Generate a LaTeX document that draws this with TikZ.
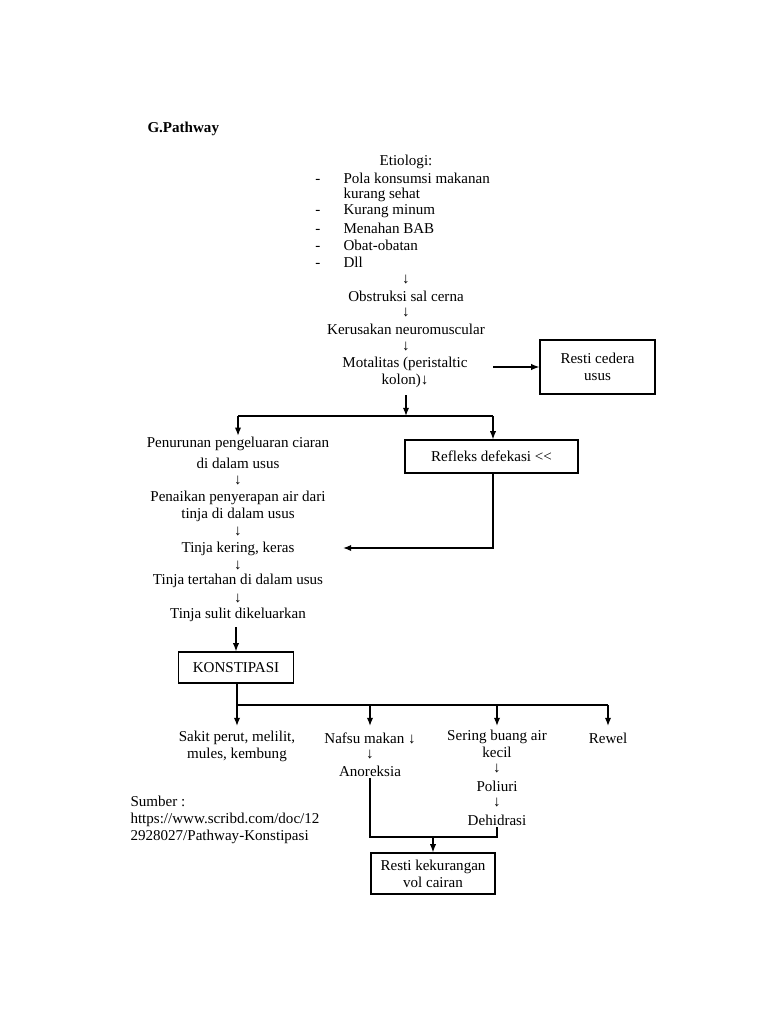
\documentclass[tikz,border=0pt]{standalone}
\usepackage{fontspec}
\setmainfont{Liberation Serif}
\usetikzlibrary{arrows.meta}

\begin{document}
\begin{tikzpicture}[x=0.796875pt,y=-0.796875pt,
    txt/.style={align=center,inner sep=1pt,font=\fontsize{12}{13.6}\selectfont},
    box/.style={draw,line width=1pt,align=center,inner sep=1pt,font=\fontsize{12}{13.6}\selectfont},
    arr/.style={-{Latex[length=6.5pt,width=5pt]},line width=1pt}]
  \useasboundingbox (0,0) rectangle (768,1024);
  % etiologi
  \node [txt,anchor=west,font=\fontsize{12}{13.6}\selectfont\bfseries] (title) at (146,129) {G.Pathway};
  \node [txt] (etio) at (406,162) {Etiologi:};
  \foreach \y/\t [count=\i] in {178/Pola konsumsi makanan,211/Kurang minum,228/Menahan BAB,245/Obat-obatan,262/Dll} {
    \node [txt,anchor=west] (item\i) at (342,\y) {\t};
    \node [txt,anchor=base] (dash\i) at (item\i.base -| 318,0) {-};
  }
  \node [txt,anchor=west] (item1b) at (342,195) {kurang sehat};
  \node [txt] (d1) at (406,279) {↓};
  \node [txt] (obs) at (406,296) {Obstruksi sal cerna};
  \node [txt] (d2) at (406,312) {↓};
  \node [txt] (ker) at (406,329) {Kerusakan neuromuscular};
  \node [txt] (d3) at (406,346) {↓};
  \node [txt] (mot) at (405,372) {Motalitas (peristaltic\\kolon)↓};
  \node [box,minimum width=91.6pt,minimum height=43pt] (rcu) at (597.5,367) {Resti cedera\\usus};
  \coordinate (m1) at (493,367);
  \draw [arr] (m1) -- (rcu.west);
  % split
  \coordinate (s0) at (406,395);
  \coordinate (s1) at (406,416);
  \coordinate (sl) at (238,416);
  \coordinate (sr) at (493,416);
  \draw [arr] (s0) -- (s1);
  \draw [line width=1pt] (sl) -- (sr);
  % left column
  \node [txt] (pen) at (238,453) {Penurunan pengeluaran ciaran\\[3pt]di dalam usus};
  \node [txt] (d4) at (238,480) {↓};
  \node [txt] (pny) at (238,506) {Penaikan penyerapan air dari\\tinja di dalam usus};
  \node [txt] (d5) at (238,531) {↓};
  \node [txt] (kering) at (238,549) {Tinja kering, keras};
  \node [txt] (d6) at (238,565) {↓};
  \node [txt] (tahan) at (238,581) {Tinja tertahan di dalam usus};
  \node [txt] (d7) at (238,598) {↓};
  \node [txt] (sulit) at (238,615) {Tinja sulit dikeluarkan};
  \draw [arr] (sl) -- (pen.north);
  % right branch
  \node [box,minimum width=137.9pt,minimum height=26.3pt] (ref) at (491.5,456.5) {Refleks defekasi <\kern0pt<};
  \draw [arr] (sr) -- (sr |- ref.north);
  \coordinate (rb) at (493,548);
  \coordinate (rk) at (343,548);
  \draw [arr] (sr |- ref.south) -- (rb) -- (rk);
  % konstipasi
  \node [box,minimum width=91.6pt,minimum height=24.7pt] (kon) at (236,667.5) {KONSTIPASI};
  \coordinate (k0) at (236,627);
  \draw [arr] (k0) -- (kon.north);
  \coordinate (b0) at (237,705);
  \coordinate (b4) at (608,705);
  \draw [line width=1pt] (kon.south -| b0) -- (b0) -- (b4);
  \node [txt] (sakit) at (237,746) {Sakit perut, melilit,\\mules, kembung};
  \node [txt] (nafsu) at (370,738) {Nafsu makan ↓};
  \node [txt] (d8) at (370,754) {↓};
  \node [txt] (anor) at (370,771) {Anoreksia};
  \node [txt] (sering) at (497,744) {Sering buang air\\kecil};
  \node [txt] (d9) at (497,768) {↓};
  \node [txt] (poli) at (497,786) {Poliuri};
  \node [txt] (d10) at (497,802) {↓};
  \node [txt] (dehi) at (497,820) {Dehidrasi};
  \node [txt] (rewel) at (608,738) {Rewel};
  \foreach \n in {sakit,nafsu,sering,rewel}
    \draw [arr] (\n.north |- b0) -- (\n.north |- 0,726);
  % cairan
  \coordinate (c0) at (370,837);
  \coordinate (c1) at (497,837);
  \coordinate (c2) at (433,837);
  \draw [line width=1pt] (anor.south) -- (c0) -- (c1) -- (dehi.south);
  \node [box,minimum width=98.8pt,minimum height=32.7pt] (rkv) at (433,873.5) {Resti kekurangan\\vol cairan};
  \draw [arr] (c2) -- (rkv.north);
  % sumber
  \node [txt,anchor=west,align=left] (sumber) at (129,820) {Sumber :\\https://www.scribd.com/doc/12\\2928027/Pathway-Konstipasi};
\end{tikzpicture}
\end{document}
